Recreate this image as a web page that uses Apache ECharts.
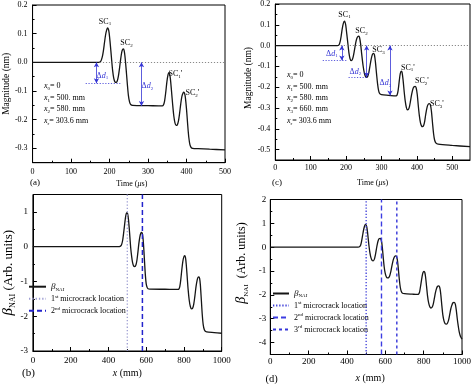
<!DOCTYPE html>
<html><head><meta charset="utf-8">
<script src="https://cdn.jsdelivr.net/npm/echarts@6/dist/echarts.min.js"></script>
<style>html,body{margin:0;padding:0;background:#fff}#c{width:474px;height:384px}</style>
</head><body><div id="c"></div>
<script>
// ---------------- data ----------------
// (a) single/double microcrack signal: [time (us), magnitude (nm)]
const aCurve = [[0,0],[172,0],[177,0.003],[181,0.018],[184,0.04],[187,0.07],[190,0.098],[193,0.115],[195,0.12],[197,0.116],[199,0.102],[202,0.062],[205,0.016],[208,-0.028],[211,-0.056],[214,-0.068],[217,-0.07],[220,-0.065],[223,-0.048],[226,-0.02],[229,0.012],[232,0.037],[234,0.045],[236,0.047],[238,0.041],[240,0.022],[243,-0.022],[246,-0.072],[249,-0.115],[252,-0.138],[255,-0.147],[260,-0.15],[300,-0.151],[337,-0.152],[340,-0.149],[343,-0.135],[346,-0.105],[349,-0.068],[352,-0.043],[354,-0.036],[356,-0.04],[358,-0.056],[361,-0.1],[364,-0.147],[367,-0.187],[370,-0.211],[373,-0.22],[376,-0.218],[379,-0.205],[382,-0.178],[385,-0.145],[388,-0.119],[391,-0.107],[393,-0.104],[395,-0.108],[397,-0.122],[400,-0.163],[403,-0.217],[406,-0.262],[409,-0.288],[412,-0.297],[416,-0.3],[430,-0.301],[460,-0.303],[500,-0.305]];
// (c) three microcracks: [time (us), magnitude (nm)]
const cCurve = [[0,0],[175,0],[180,0.004],[183,0.018],[186,0.045],[189,0.08],[192,0.106],[195,0.117],[197,0.113],[199,0.098],[202,0.055],[205,0.01],[208,-0.035],[211,-0.062],[214,-0.072],[217,-0.069],[220,-0.054],[223,-0.028],[227,0.012],[230,0.033],[233,0.043],[236,0.045],[238,0.039],[241,0.008],[244,-0.04],[248,-0.097],[252,-0.136],[255,-0.149],[258,-0.153],[261,-0.148],[264,-0.131],[267,-0.102],[271,-0.064],[274,-0.044],[277,-0.037],[280,-0.044],[283,-0.082],[286,-0.136],[289,-0.185],[292,-0.218],[295,-0.231],[300,-0.236],[320,-0.239],[341,-0.242],[344,-0.238],[347,-0.215],[350,-0.172],[353,-0.135],[356,-0.123],[358,-0.128],[361,-0.166],[364,-0.22],[367,-0.266],[370,-0.296],[373,-0.309],[376,-0.307],[379,-0.293],[382,-0.266],[385,-0.236],[389,-0.207],[392,-0.198],[395,-0.196],[398,-0.204],[401,-0.235],[404,-0.29],[407,-0.338],[410,-0.37],[413,-0.386],[416,-0.39],[419,-0.384],[422,-0.364],[425,-0.33],[429,-0.295],[432,-0.282],[435,-0.279],[438,-0.284],[441,-0.315],[444,-0.37],[447,-0.422],[450,-0.454],[454,-0.469],[460,-0.474],[500,-0.48],[550,-0.486]];
// (b) beta_NAI for two microcracks: [x (mm), arb. units]
const bCurve = [[0,0],[452,0],[462,0.01],[469,0.05],[475,0.17],[480,0.37],[485,0.6],[490,0.82],[494,0.94],[498,0.98],[502,0.94],[506,0.79],[510,0.55],[514,0.26],[518,-0.03],[523,-0.28],[528,-0.46],[534,-0.56],[540,-0.57],[546,-0.52],[551,-0.39],[556,-0.17],[561,0.08],[566,0.27],[571,0.38],[576,0.41],[580,0.37],[584,0.2],[588,-0.12],[592,-0.5],[596,-0.84],[600,-1.06],[605,-1.17],[610,-1.21],[620,-1.22],[700,-1.225],[768,-1.23],[773,-1.22],[778,-1.15],[783,-0.96],[789,-0.65],[794,-0.43],[799,-0.3],[804,-0.26],[808,-0.31],[812,-0.5],[817,-0.85],[822,-1.22],[828,-1.54],[834,-1.72],[840,-1.79],[846,-1.77],[852,-1.65],[858,-1.42],[864,-1.15],[870,-0.96],[875,-0.88],[879,-0.87],[883,-0.91],[887,-1.1],[892,-1.52],[897,-1.95],[902,-2.24],[908,-2.39],[915,-2.44],[930,-2.46],[960,-2.47],[1000,-2.49]];
// (d) beta_NAI for three microcracks: [x (mm), arb. units]
const dCurve = [[0,0],[458,0],[465,0.015],[471,0.08],[476,0.24],[481,0.47],[486,0.7],[491,0.87],[495,0.95],[499,0.95],[503,0.86],[507,0.64],[511,0.34],[515,0.04],[520,-0.25],[525,-0.44],[531,-0.55],[537,-0.57],[543,-0.5],[548,-0.33],[553,-0.1],[558,0.12],[563,0.28],[568,0.36],[573,0.37],[577,0.33],[581,0.21],[585,-0.06],[589,-0.42],[594,-0.82],[599,-1.08],[605,-1.24],[611,-1.29],[617,-1.28],[623,-1.2],[629,-1.01],[635,-0.76],[641,-0.54],[647,-0.41],[652,-0.36],[656,-0.37],[660,-0.43],[664,-0.6],[668,-0.92],[673,-1.35],[678,-1.68],[684,-1.87],[690,-1.93],[700,-1.95],[740,-1.97],[768,-1.98],[773,-1.97],[778,-1.9],[783,-1.68],[789,-1.37],[794,-1.14],[798,-1.04],[802,-1.01],[806,-1.06],[810,-1.25],[815,-1.63],[820,-2.03],[826,-2.34],[832,-2.5],[838,-2.55],[844,-2.52],[850,-2.39],[856,-2.14],[862,-1.88],[868,-1.71],[873,-1.64],[878,-1.62],[882,-1.65],[886,-1.77],[890,-2.03],[895,-2.46],[900,-2.84],[906,-3.09],[912,-3.21],[918,-3.23],[924,-3.19],[930,-3.06],[936,-2.82],[942,-2.57],[948,-2.41],[953,-2.33],[958,-2.31],[962,-2.33],[966,-2.42],[970,-2.63],[975,-2.98],[980,-3.28],[985,-3.53],[990,-3.69],[995,-3.79],[1000,-3.85]];

const crackLocB = [500, 580];
const crackLocD = [500, 580, 660];

// tick labels
const aTicksX = [0,100,200,300,400,500];
const aTicksY = [0.2,0.1,0,-0.1,-0.2,-0.3];
const cTicksX = [0,100,200,300,400,500];
const cTicksY = [0.2,0.1,0,-0.1,-0.2,-0.3,-0.4,-0.5];
const bTicksX = [0,200,400,600,800,1000];
const bTicksY = [1,0,-1,-2,-3];
const dTicksX = [0,200,400,600,800,1000];
const dTicksY = [2,1,0,-1,-2,-3,-4];

// annotation geometry (data space): [x, yFrom, yTo] and [xFrom, xTo, y]
const aArrows = [[166,0,-0.073],[283,0,-0.152]];
const aGuides = [[138,228,-0.073]];
const aZero = [175,500];
const cArrows = [[188,0,-0.072],[258,0,-0.152],[324,0,-0.24]];
const cGuides = [[134,204,-0.072],[207,259,-0.152]];
const cZero = [185,550];

// ---------------- chart ----------------
const FONT = '"Liberation Serif","Times New Roman",serif';
const BLUE = '#3434d4';
function R(fs, color) {
  color = color || '#000';
  const lh = Math.round(fs * 1.25);
  const ss = Math.max(5, Math.round(fs * 0.62));
  return {
    i: {fontFamily: FONT, fontSize: fs, fontStyle: 'italic', color, fill: color, lineHeight: lh},
    n: {fontFamily: FONT, fontSize: fs, color, fill: color, lineHeight: lh},
    bi: {fontFamily: FONT, fontSize: Math.round(fs * 1.15), fontStyle: 'italic', color, fill: color, lineHeight: lh},
    s: {fontFamily: FONT, fontSize: ss, color, fill: color, verticalAlign: 'bottom', lineHeight: ss},
    p: {fontFamily: FONT, fontSize: ss, color, fill: color, verticalAlign: 'top', lineHeight: ss}
  };
}
function minorOf(ticks, min, max) {
  const s = [...ticks].sort((a, b) => a - b), step = s[1] - s[0], out = [];
  for (let v = s[0] - step / 2; v > min + 1e-9; v -= step) out.push(v);
  for (let i = 0; i < s.length - 1; i++) out.push((s[i] + s[i + 1]) / 2);
  for (let v = s[s.length - 1] + step / 2; v < max - 1e-9; v += step) out.push(v);
  return out;
}
function mainAxis(gi, min, max, ticks, fmt, o) {
  return {
    type: 'value', gridIndex: gi, min, max, position: o.pos,
    axisLine: {show: true, onZero: false, lineStyle: {color: '#000', width: 1}},
    axisTick: {show: true, inside: true, length: 4, customValues: ticks, lineStyle: {color: '#000', width: 1}},
    axisLabel: {show: true, customValues: ticks, formatter: fmt, fontFamily: FONT, fontSize: o.ls, color: '#000', margin: o.lm},
    splitLine: {show: false},
    name: o.name, nameLocation: 'middle', nameGap: o.ng,
    nameTextStyle: {fontFamily: FONT, fontSize: o.ns, color: '#000', rich: R(o.ns), padding: o.np || 0}
  };
}
function minorAxis(gi, min, max, ticks, pos) {
  return {
    type: 'value', gridIndex: gi, min, max, position: pos,
    axisLine: {show: false, onZero: false},
    axisTick: {show: true, inside: true, length: 2, customValues: minorOf(ticks, min, max), lineStyle: {color: '#000', width: 1}},
    axisLabel: {show: false}, splitLine: {show: false}
  };
}
const f1 = v => v.toFixed(1);
const f0 = v => String(Math.round(v));

const lim = {a: [-0.35, 0.2], c: [-0.55, 0.2], b: [-3, 1.5], d: [-4.5, 2]};

const xAxis = [
  mainAxis(0, 0, 500, aTicksX, f0, {pos: 'bottom', ls: 8, lm: 5, name: 'Time ({i|μ}s)', ng: 16, ns: 8, np: [0, 0, 0, 6]}),
  mainAxis(1, 0, 550, cTicksX, f0, {pos: 'bottom', ls: 8, lm: 4, name: 'Time ({i|μ}s)', ng: 18, ns: 8}),
  mainAxis(2, 0, 1000, bTicksX, f0, {pos: 'bottom', ls: 9, lm: 5, name: '{i|x} (mm)', ng: 16, ns: 10}),
  mainAxis(3, 0, 1000, dTicksX, f0, {pos: 'bottom', ls: 9, lm: 3, name: '{i|x} (mm)', ng: 17, ns: 10, np: [0, 0, 0, 8]}),
  minorAxis(0, 0, 500, aTicksX, 'bottom'),
  minorAxis(1, 0, 550, cTicksX, 'bottom'),
  minorAxis(2, 0, 1000, bTicksX, 'bottom'),
  minorAxis(3, 0, 1000, dTicksX, 'bottom')
];
const yAxis = [
  mainAxis(0, lim.a[0], lim.a[1], aTicksY, f1, {pos: 'left', ls: 8, lm: 5, name: 'Magnitude (nm)', ng: 19, ns: 9.5}),
  mainAxis(1, lim.c[0], lim.c[1], cTicksY, f1, {pos: 'left', ls: 8, lm: 5, name: 'Magnitude (nm)', ng: 18, ns: 9.5, np: [0, 0, 0, 8]}),
  mainAxis(2, lim.b[0], lim.b[1], bTicksY, f0, {pos: 'left', ls: 9, lm: 5, name: '{bi|β}{s|NAI} (Arb. units)', ng: 12, ns: 13}),
  mainAxis(3, lim.d[0], lim.d[1], dTicksY, f0, {pos: 'left', ls: 9, lm: 4, name: '{bi|β}{s|NAI}  (Arb. units)', ng: 21, ns: 12, np: [0, 0, 0, 28]}),
  minorAxis(0, lim.a[0], lim.a[1], aTicksY, 'left'),
  minorAxis(1, lim.c[0], lim.c[1], cTicksY, 'left'),
  minorAxis(2, lim.b[0], lim.b[1], bTicksY, 'left'),
  minorAxis(3, lim.d[0], lim.d[1], dTicksY, 'left')
];
const gridBase = {show: true, borderColor: '#000', borderWidth: 1, backgroundColor: 'transparent', containLabel: false};
const grid = [
  Object.assign({left: 29.3, top: 5, width: 195.7, height: 157.7}, gridBase),
  Object.assign({left: 275.3, top: 2.4, width: 194.7, height: 157.6}, gridBase),
  Object.assign({left: 26, top: 194.5, width: 195.7, height: 156.5}, gridBase),
  Object.assign({left: 270.3, top: 199.5, width: 195, height: 156}, gridBase)
];

function curve(gi, name, data) {
  return {type: 'line', name, xAxisIndex: gi, yAxisIndex: gi, data, symbol: 'none', showSymbol: false,
    smooth: 0.3, lineStyle: {color: '#151515', width: 1.3}, itemStyle: {color: '#151515'}, silent: true, z: 3};
}
function markSeries(gi, arrows, guides, zero) {
  return [
    {type: 'line', xAxisIndex: gi, yAxisIndex: gi, data: [], silent: true,
      markLine: {silent: true, symbol: ['none', 'none'], label: {show: false}, animation: false,
        lineStyle: {color: '#8a8a8a', type: [1.2, 1.8], width: 1},
        data: [[{coord: [zero[0], 0]}, {coord: [zero[1], 0]}]]}},
    {type: 'line', xAxisIndex: gi, yAxisIndex: gi, data: [], silent: true,
      markLine: {silent: true, symbol: ['none', 'none'], label: {show: false}, animation: false,
        lineStyle: {color: BLUE, type: [1.2, 1.6], width: 0.8},
        data: guides.map(g => [{coord: [g[0], g[2]]}, {coord: [g[1], g[2]]}])}},
    {type: 'line', xAxisIndex: gi, yAxisIndex: gi, data: [], silent: true,
      markLine: {silent: true, symbol: ['arrow', 'arrow'], symbolSize: [4, 5], label: {show: false}, animation: false,
        lineStyle: {color: BLUE, type: 'solid', width: 0.8},
        data: arrows.map(a => [{coord: [a[0], a[1]]}, {coord: [a[0], a[2]]}])}}
  ];
}
function vline(gi, name, x, ylim, color, type, width) {
  return {type: 'line', name, xAxisIndex: gi, yAxisIndex: gi, data: [[x, ylim[0]], [x, ylim[1]]],
    symbol: 'none', showSymbol: false, silent: true, z: 4,
    lineStyle: {color, type, width}, itemStyle: {color}};
}

const series = [
  curve(0, 'a', aCurve),
  ...markSeries(0, aArrows, aGuides, aZero),
  curve(1, 'c', cCurve),
  ...markSeries(1, cArrows, cGuides, cZero),
  curve(2, 'bb', bCurve),
  vline(2, 'b1', crackLocB[0], lim.b, '#9d9dd2', [1.3, 2], 1.3),
  vline(2, 'b2', crackLocB[1], lim.b, '#2323cc', [5, 3], 1.5),
  curve(3, 'db', dCurve),
  vline(3, 'd1', crackLocD[0], lim.d, '#3a3ad8', [1.3, 1.8], 1.3),
  vline(3, 'd2', crackLocD[1], lim.d, '#3c3ce2', [5, 3], 1.4),
  vline(3, 'd3', crackLocD[2], lim.d, '#3434d8', [3, 3], 1.4)
];

const LEG = {
  bb: '{bi|β}{s|NAI}', b1: '{n|1}{p|st}{n| microcrack location}', b2: '{n|2}{p|nd}{n| microcrack location}',
  db: '{bi|β}{s|NAI}', d1: '{n|1}{p|st}{n| microcrack location}', d2: '{n|2}{p|nd}{n| microcrack location}', d3: '{n|3}{p|rd}{n| microcrack location}'
};
function legend(names, left, top, iw) {
  return {data: names, left, top, orient: 'vertical', itemWidth: iw, itemHeight: 8, itemGap: 2, padding: 0,
    selectedMode: false, formatter: n => LEG[n],
    itemStyle: {opacity: 0, borderWidth: 0},
    textStyle: {fontFamily: FONT, fontSize: 8, color: '#000', lineHeight: 10, rich: R(8)}};
}

function T(x, y, text, fs, o) {
  o = o || {};
  const color = o.color || '#000';
  return {type: 'text', x, y, silent: true, z: 100,
    style: {text, fontFamily: FONT, fontSize: fs, fill: color, align: o.align || 'left', verticalAlign: 'middle',
      textAlign: o.align || 'left', textVerticalAlign: 'middle', rich: R(fs, color)}};
}
const SC = (k, pr) => '{n|SC}{s|' + k + '}' + (pr ? "{n|'}" : '');
const XV = (k, v) => '{i|x}{s|' + k + '}{n|= ' + v + '}';
const DD = k => '{n|Δ}{i|d}{s|' + k + '}';

const graphic = [
  // (a)
  T(105, 21.5, SC(1), 8, {align: 'center'}), T(126.5, 43, SC(2), 8, {align: 'center'}),
  T(168.5, 74, SC(1, 1), 8), T(185.5, 93, SC(2, 1), 8),
  T(44, 85.7, XV('0', '0'), 8), T(44, 97.7, XV('1', '500. mm'), 8), T(44, 109, XV('2', '580. mm'), 8), T(44, 120.7, XV('r', '303.6 mm'), 8),
  T(96.5, 75.5, DD(1), 8, {color: BLUE}), T(141.5, 86, DD(2), 8, {color: BLUE}),
  T(30, 182.7, '(a)', 9),
  // (c)
  T(344.5, 14.5, SC(1), 8, {align: 'center'}), T(361.5, 30.7, SC(2), 8, {align: 'center'}), T(378.5, 50, SC(3), 8, {align: 'center'}),
  T(401, 67.5, SC(1, 1), 8), T(415, 81, SC(2, 1), 8), T(430, 104, SC(3, 1), 8),
  T(287, 75, XV('0', '0'), 8), T(287, 86.7, XV('1', '500. mm'), 8), T(287, 98.3, XV('2', '580. mm'), 8), T(287, 109.3, XV('3', '660. mm'), 8), T(287, 120.7, XV('r', '303.6 mm'), 8),
  T(326, 53.5, DD(1), 8, {color: BLUE}), T(349.5, 71.5, DD(2), 8, {color: BLUE}), T(379.5, 83, DD(3), 8, {color: BLUE}),
  T(272, 182.7, '(c)', 9),
  // (b), (d)
  T(22, 372.7, '(b)', 11),
  T(265.5, 379, '(d)', 10.5)
];

const chart = echarts.init(document.getElementById('c'), null, {renderer: 'canvas'});
chart.setOption({
  animation: false,
  backgroundColor: '#fff',
  grid, xAxis, yAxis, series, graphic,
  legend: [legend(['bb', 'b1', 'b2'], 28, 281.7, 17), legend(['db', 'd1', 'd2', 'd3'], 272, 288.5, 16)]
});
</script></body></html>
